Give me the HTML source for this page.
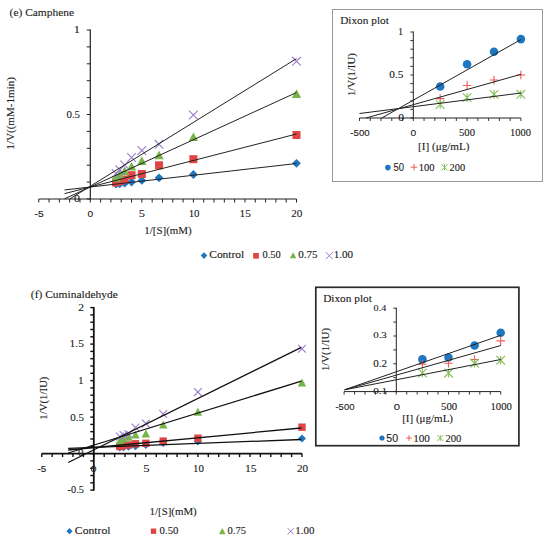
<!DOCTYPE html>
<html><head><meta charset="utf-8"><style>
html,body{margin:0;padding:0;background:#fff;width:550px;height:543px;overflow:hidden}
svg{display:block}
</style></head><body>
<svg width="550" height="543" viewBox="0 0 550 543">
<rect width="550" height="543" fill="#fff"/>
<text x="9.58" y="15.8" font-size="11.06" font-family='"Liberation Serif", serif' fill="#1a1a1a" stroke="#1a1a1a" stroke-width="0.1" textLength="64.53" lengthAdjust="spacingAndGlyphs">(e) Camphene</text>
<line x1="90.3" y1="29.5" x2="90.3" y2="199.5" stroke="#222" stroke-width="1.2"/>
<line x1="38.75" y1="199" x2="296.5" y2="199" stroke="#222" stroke-width="1.2"/>
<line x1="86.8" y1="199" x2="90.3" y2="199" stroke="#222" stroke-width="1"/>
<line x1="86.8" y1="182.1" x2="90.3" y2="182.1" stroke="#222" stroke-width="1"/>
<line x1="86.8" y1="165.2" x2="90.3" y2="165.2" stroke="#222" stroke-width="1"/>
<line x1="86.8" y1="148.3" x2="90.3" y2="148.3" stroke="#222" stroke-width="1"/>
<line x1="86.8" y1="131.4" x2="90.3" y2="131.4" stroke="#222" stroke-width="1"/>
<line x1="86.8" y1="114.5" x2="90.3" y2="114.5" stroke="#222" stroke-width="1"/>
<line x1="86.8" y1="97.6" x2="90.3" y2="97.6" stroke="#222" stroke-width="1"/>
<line x1="86.8" y1="80.7" x2="90.3" y2="80.7" stroke="#222" stroke-width="1"/>
<line x1="86.8" y1="63.8" x2="90.3" y2="63.8" stroke="#222" stroke-width="1"/>
<line x1="86.8" y1="46.9" x2="90.3" y2="46.9" stroke="#222" stroke-width="1"/>
<line x1="86.8" y1="30" x2="90.3" y2="30" stroke="#222" stroke-width="1"/>
<line x1="38.75" y1="199" x2="38.75" y2="202.5" stroke="#222" stroke-width="1"/>
<line x1="49.06" y1="199" x2="49.06" y2="202.5" stroke="#222" stroke-width="1"/>
<line x1="59.37" y1="199" x2="59.37" y2="202.5" stroke="#222" stroke-width="1"/>
<line x1="69.68" y1="199" x2="69.68" y2="202.5" stroke="#222" stroke-width="1"/>
<line x1="79.99" y1="199" x2="79.99" y2="202.5" stroke="#222" stroke-width="1"/>
<line x1="90.3" y1="199" x2="90.3" y2="202.5" stroke="#222" stroke-width="1"/>
<line x1="100.61" y1="199" x2="100.61" y2="202.5" stroke="#222" stroke-width="1"/>
<line x1="110.92" y1="199" x2="110.92" y2="202.5" stroke="#222" stroke-width="1"/>
<line x1="121.23" y1="199" x2="121.23" y2="202.5" stroke="#222" stroke-width="1"/>
<line x1="131.54" y1="199" x2="131.54" y2="202.5" stroke="#222" stroke-width="1"/>
<line x1="141.85" y1="199" x2="141.85" y2="202.5" stroke="#222" stroke-width="1"/>
<line x1="152.16" y1="199" x2="152.16" y2="202.5" stroke="#222" stroke-width="1"/>
<line x1="162.47" y1="199" x2="162.47" y2="202.5" stroke="#222" stroke-width="1"/>
<line x1="172.78" y1="199" x2="172.78" y2="202.5" stroke="#222" stroke-width="1"/>
<line x1="183.09" y1="199" x2="183.09" y2="202.5" stroke="#222" stroke-width="1"/>
<line x1="193.4" y1="199" x2="193.4" y2="202.5" stroke="#222" stroke-width="1"/>
<line x1="203.71" y1="199" x2="203.71" y2="202.5" stroke="#222" stroke-width="1"/>
<line x1="214.02" y1="199" x2="214.02" y2="202.5" stroke="#222" stroke-width="1"/>
<line x1="224.33" y1="199" x2="224.33" y2="202.5" stroke="#222" stroke-width="1"/>
<line x1="234.64" y1="199" x2="234.64" y2="202.5" stroke="#222" stroke-width="1"/>
<line x1="244.95" y1="199" x2="244.95" y2="202.5" stroke="#222" stroke-width="1"/>
<line x1="255.26" y1="199" x2="255.26" y2="202.5" stroke="#222" stroke-width="1"/>
<line x1="265.57" y1="199" x2="265.57" y2="202.5" stroke="#222" stroke-width="1"/>
<line x1="275.88" y1="199" x2="275.88" y2="202.5" stroke="#222" stroke-width="1"/>
<line x1="286.19" y1="199" x2="286.19" y2="202.5" stroke="#222" stroke-width="1"/>
<line x1="296.5" y1="199" x2="296.5" y2="202.5" stroke="#222" stroke-width="1"/>
<text x="73.85" y="32.9" font-size="10.15" font-family='"Liberation Serif", serif' fill="#1a1a1a" stroke="#1a1a1a" stroke-width="0.1" textLength="6.2" lengthAdjust="spacingAndGlyphs">1</text>
<text x="66.47" y="117.8" font-size="10.61" font-family='"Liberation Serif", serif' fill="#1a1a1a" stroke="#1a1a1a" stroke-width="0.1" textLength="13.57" lengthAdjust="spacingAndGlyphs">0.5</text>
<text x="74.02" y="202" font-size="9.85" font-family='"Liberation Serif", serif' fill="#1a1a1a" stroke="#1a1a1a" stroke-width="0.1" textLength="5.95" lengthAdjust="spacingAndGlyphs">0</text>
<text x="34.64" y="217" font-size="9.86" font-family='"Liberation Sans", sans-serif' fill="#1a1a1a" stroke="#1a1a1a" stroke-width="0.1" textLength="9.17" lengthAdjust="spacingAndGlyphs">-5</text>
<text x="87.49" y="217" font-size="9.86" font-family='"Liberation Sans", sans-serif' fill="#1a1a1a" stroke="#1a1a1a" stroke-width="0.1" textLength="5.68" lengthAdjust="spacingAndGlyphs">0</text>
<text x="138.75" y="216.9" font-size="10.91" font-family='"Liberation Serif", serif' fill="#1a1a1a" stroke="#1a1a1a" stroke-width="0.1" textLength="6.25" lengthAdjust="spacingAndGlyphs">5</text>
<text x="188.68" y="216.9" font-size="10.91" font-family='"Liberation Serif", serif' fill="#1a1a1a" stroke="#1a1a1a" stroke-width="0.1" textLength="10.86" lengthAdjust="spacingAndGlyphs">10</text>
<text x="239.54" y="216.9" font-size="10.91" font-family='"Liberation Serif", serif' fill="#1a1a1a" stroke="#1a1a1a" stroke-width="0.1" textLength="11.31" lengthAdjust="spacingAndGlyphs">15</text>
<text x="291.3" y="216.9" font-size="10.91" font-family='"Liberation Serif", serif' fill="#1a1a1a" stroke="#1a1a1a" stroke-width="0.1" textLength="11.15" lengthAdjust="spacingAndGlyphs">20</text>
<text x="14.5" y="149.64" font-size="10.45" font-family='"Liberation Serif", serif' fill="#1a1a1a" stroke="#1a1a1a" stroke-width="0.1" textLength="72.64" lengthAdjust="spacingAndGlyphs" transform="rotate(-90 14.5 149.64)">1/V((mM-1min)</text>
<text x="144.27" y="234.4" font-size="10.76" font-family='"Liberation Serif", serif' fill="#1a1a1a" stroke="#1a1a1a" stroke-width="0.1" textLength="47.5" lengthAdjust="spacingAndGlyphs">1/[S](mM)</text>
<polygon points="116.08,179.8 120.48,184.2 116.08,188.6 111.67,184.2" fill="#1f77c0"/>
<polygon points="119.76,179.4 124.16,183.8 119.76,188.2 115.36,183.8" fill="#1f77c0"/>
<polygon points="124.66,178.8 129.06,183.2 124.66,187.6 120.26,183.2" fill="#1f77c0"/>
<polygon points="131.54,177.6 135.94,182 131.54,186.4 127.14,182" fill="#1f77c0"/>
<polygon points="141.85,176 146.25,180.4 141.85,184.8 137.45,180.4" fill="#1f77c0"/>
<polygon points="159.04,173.4 163.44,177.8 159.04,182.2 154.64,177.8" fill="#1f77c0"/>
<polygon points="193.4,170.1 197.8,174.5 193.4,178.9 189,174.5" fill="#1f77c0"/>
<polygon points="296.5,158.9 300.9,163.3 296.5,167.7 292.1,163.3" fill="#1f77c0"/>
<rect x="112.08" y="178.5" width="8" height="8" fill="#e04545"/>
<rect x="115.76" y="177" width="8" height="8" fill="#e04545"/>
<rect x="120.66" y="175.5" width="8" height="8" fill="#e04545"/>
<rect x="127.54" y="171.2" width="8" height="8" fill="#e04545"/>
<rect x="137.85" y="170" width="8" height="8" fill="#e04545"/>
<rect x="155.04" y="161.3" width="8" height="8" fill="#e04545"/>
<rect x="189.4" y="155.2" width="8" height="8" fill="#e04545"/>
<rect x="292.5" y="131" width="8" height="8" fill="#e04545"/>
<polygon points="116.08,173.2 120.78,181.8 111.38,181.8" fill="#78b548"/>
<polygon points="119.76,170 124.46,178.6 115.06,178.6" fill="#78b548"/>
<polygon points="124.66,166.5 129.36,175.1 119.96,175.1" fill="#78b548"/>
<polygon points="131.54,161.9 136.24,170.5 126.84,170.5" fill="#78b548"/>
<polygon points="141.85,156.3 146.55,164.9 137.15,164.9" fill="#78b548"/>
<polygon points="159.04,150.7 163.74,159.3 154.34,159.3" fill="#78b548"/>
<polygon points="193.4,132.5 198.1,141.1 188.7,141.1" fill="#78b548"/>
<polygon points="296.5,89.3 301.2,97.9 291.8,97.9" fill="#78b548"/>
<path d="M111.78 169.2L120.38 177.8M120.38 169.2L111.78 177.8" stroke="#9a7ccf" stroke-width="1.1" fill="none"/>
<path d="M115.46 165.4L124.06 174M124.06 165.4L115.46 174" stroke="#9a7ccf" stroke-width="1.1" fill="none"/>
<path d="M120.36 160.7L128.96 169.3M128.96 160.7L120.36 169.3" stroke="#9a7ccf" stroke-width="1.1" fill="none"/>
<path d="M127.24 153.2L135.84 161.8M135.84 153.2L127.24 161.8" stroke="#9a7ccf" stroke-width="1.1" fill="none"/>
<path d="M137.55 146.2L146.15 154.8M146.15 146.2L137.55 154.8" stroke="#9a7ccf" stroke-width="1.1" fill="none"/>
<path d="M154.74 140L163.34 148.6M163.34 140L154.74 148.6" stroke="#9a7ccf" stroke-width="1.1" fill="none"/>
<path d="M189.1 110.7L197.7 119.3M197.7 110.7L189.1 119.3" stroke="#9a7ccf" stroke-width="1.1" fill="none"/>
<path d="M292.2 57L300.8 65.6M300.8 57L292.2 65.6" stroke="#9a7ccf" stroke-width="1.1" fill="none"/>
<line x1="64.52" y1="189.94" x2="296.5" y2="163.5" stroke="#222" stroke-width="1"/>
<line x1="64.52" y1="193.62" x2="296.5" y2="134" stroke="#222" stroke-width="1"/>
<line x1="64.52" y1="198.81" x2="296.5" y2="92.5" stroke="#222" stroke-width="1"/>
<line x1="69.62" y1="199" x2="296.5" y2="58.6" stroke="#222" stroke-width="1"/>
<polygon points="204,252.3 207.3,255.6 204,258.9 200.7,255.6" fill="#1f77c0"/>
<text x="209.24" y="258.1" font-size="10" font-family='"Liberation Serif", serif' fill="#1a1a1a" stroke="#1a1a1a" stroke-width="0.1" textLength="35.04" lengthAdjust="spacingAndGlyphs">Control</text>
<rect x="253.15" y="252.95" width="5.7" height="5.7" fill="#e04545"/>
<text x="262.48" y="258.1" font-size="10" font-family='"Liberation Serif", serif' fill="#1a1a1a" stroke="#1a1a1a" stroke-width="0.1" textLength="18.23" lengthAdjust="spacingAndGlyphs">0.50</text>
<polygon points="293.1,252.35 296.3,258.25 289.9,258.25" fill="#78b548"/>
<text x="298.16" y="258.1" font-size="10" font-family='"Liberation Serif", serif' fill="#1a1a1a" stroke="#1a1a1a" stroke-width="0.1" textLength="19.28" lengthAdjust="spacingAndGlyphs">0.75</text>
<path d="M325.8 252.1L332.8 259.1M332.8 252.1L325.8 259.1" stroke="#9a7ccf" stroke-width="1" fill="none"/>
<text x="333.66" y="258.1" font-size="10" font-family='"Liberation Serif", serif' fill="#1a1a1a" stroke="#1a1a1a" stroke-width="0.1" textLength="19.38" lengthAdjust="spacingAndGlyphs">1.00</text>
<rect x="332.5" y="9.5" width="210" height="172" fill="none" stroke="#999" stroke-width="1"/>
<text x="340.16" y="24.3" font-size="11.06" font-family='"Liberation Serif", serif' fill="#1a1a1a" stroke="#1a1a1a" stroke-width="0.1" textLength="48.7" lengthAdjust="spacingAndGlyphs">Dixon plot</text>
<line x1="413.3" y1="31.5" x2="413.3" y2="118.5" stroke="#222" stroke-width="1"/>
<line x1="359.5" y1="118" x2="520.9" y2="118" stroke="#222" stroke-width="1"/>
<line x1="410.3" y1="118" x2="413.3" y2="118" stroke="#222" stroke-width="0.9"/>
<line x1="410.3" y1="109.4" x2="413.3" y2="109.4" stroke="#222" stroke-width="0.9"/>
<line x1="410.3" y1="100.8" x2="413.3" y2="100.8" stroke="#222" stroke-width="0.9"/>
<line x1="410.3" y1="92.2" x2="413.3" y2="92.2" stroke="#222" stroke-width="0.9"/>
<line x1="410.3" y1="83.6" x2="413.3" y2="83.6" stroke="#222" stroke-width="0.9"/>
<line x1="410.3" y1="75" x2="413.3" y2="75" stroke="#222" stroke-width="0.9"/>
<line x1="410.3" y1="66.4" x2="413.3" y2="66.4" stroke="#222" stroke-width="0.9"/>
<line x1="410.3" y1="57.8" x2="413.3" y2="57.8" stroke="#222" stroke-width="0.9"/>
<line x1="410.3" y1="49.2" x2="413.3" y2="49.2" stroke="#222" stroke-width="0.9"/>
<line x1="410.3" y1="40.6" x2="413.3" y2="40.6" stroke="#222" stroke-width="0.9"/>
<line x1="410.3" y1="32" x2="413.3" y2="32" stroke="#222" stroke-width="0.9"/>
<line x1="359.5" y1="118" x2="359.5" y2="121" stroke="#222" stroke-width="0.9"/>
<line x1="370.26" y1="118" x2="370.26" y2="121" stroke="#222" stroke-width="0.9"/>
<line x1="381.02" y1="118" x2="381.02" y2="121" stroke="#222" stroke-width="0.9"/>
<line x1="391.78" y1="118" x2="391.78" y2="121" stroke="#222" stroke-width="0.9"/>
<line x1="402.54" y1="118" x2="402.54" y2="121" stroke="#222" stroke-width="0.9"/>
<line x1="413.3" y1="118" x2="413.3" y2="121" stroke="#222" stroke-width="0.9"/>
<line x1="424.06" y1="118" x2="424.06" y2="121" stroke="#222" stroke-width="0.9"/>
<line x1="434.82" y1="118" x2="434.82" y2="121" stroke="#222" stroke-width="0.9"/>
<line x1="445.58" y1="118" x2="445.58" y2="121" stroke="#222" stroke-width="0.9"/>
<line x1="456.34" y1="118" x2="456.34" y2="121" stroke="#222" stroke-width="0.9"/>
<line x1="467.1" y1="118" x2="467.1" y2="121" stroke="#222" stroke-width="0.9"/>
<line x1="477.86" y1="118" x2="477.86" y2="121" stroke="#222" stroke-width="0.9"/>
<line x1="488.62" y1="118" x2="488.62" y2="121" stroke="#222" stroke-width="0.9"/>
<line x1="499.38" y1="118" x2="499.38" y2="121" stroke="#222" stroke-width="0.9"/>
<line x1="510.14" y1="118" x2="510.14" y2="121" stroke="#222" stroke-width="0.9"/>
<line x1="520.9" y1="118" x2="520.9" y2="121" stroke="#222" stroke-width="0.9"/>
<text x="398.14" y="34.9" font-size="9.55" font-family='"Liberation Serif", serif' fill="#1a1a1a" stroke="#1a1a1a" stroke-width="0.1" textLength="5.07" lengthAdjust="spacingAndGlyphs">1</text>
<text x="389.25" y="77.8" font-size="9.55" font-family='"Liberation Serif", serif' fill="#1a1a1a" stroke="#1a1a1a" stroke-width="0.1" textLength="14.1" lengthAdjust="spacingAndGlyphs">0.5</text>
<text x="398.33" y="121.1" font-size="9.55" font-family='"Liberation Serif", serif' fill="#1a1a1a" stroke="#1a1a1a" stroke-width="0.1" textLength="5.83" lengthAdjust="spacingAndGlyphs">0</text>
<text x="350.37" y="136.2" font-size="9.28" font-family='"Liberation Sans", sans-serif' fill="#1a1a1a" stroke="#1a1a1a" stroke-width="0.1" textLength="19.29" lengthAdjust="spacingAndGlyphs">-500</text>
<text x="410.49" y="136.2" font-size="9.28" font-family='"Liberation Sans", sans-serif' fill="#1a1a1a" stroke="#1a1a1a" stroke-width="0.1" textLength="5.68" lengthAdjust="spacingAndGlyphs">0</text>
<text x="459.06" y="136.3" font-size="10" font-family='"Liberation Serif", serif' fill="#1a1a1a" stroke="#1a1a1a" stroke-width="0.1" textLength="15.96" lengthAdjust="spacingAndGlyphs">500</text>
<text x="510.11" y="136.3" font-size="10" font-family='"Liberation Serif", serif' fill="#1a1a1a" stroke="#1a1a1a" stroke-width="0.1" textLength="20.91" lengthAdjust="spacingAndGlyphs">1000</text>
<text x="418.06" y="150.4" font-size="10" font-family='"Liberation Serif", serif' fill="#1a1a1a" stroke="#1a1a1a" stroke-width="0.1" textLength="51.52" lengthAdjust="spacingAndGlyphs">[I] (μg/mL)</text>
<text x="355.2" y="96.11" font-size="9.85" font-family='"Liberation Serif", serif' fill="#1a1a1a" stroke="#1a1a1a" stroke-width="0.1" textLength="42.88" lengthAdjust="spacingAndGlyphs" transform="rotate(-90 355.2 96.11)">1/V(1/IU)</text>
<circle cx="440.2" cy="86.5" r="4.3" fill="#1f77c0"/>
<circle cx="467.1" cy="64.3" r="4.3" fill="#1f77c0"/>
<circle cx="494" cy="51.8" r="4.3" fill="#1f77c0"/>
<circle cx="520.9" cy="39.1" r="4.3" fill="#1f77c0"/>
<path d="M435.9 98.6L444.5 98.6M440.2 94.3L440.2 102.9" stroke="#f05a5a" stroke-width="1.1" fill="none"/>
<path d="M462.8 85.5L471.4 85.5M467.1 81.2L467.1 89.8" stroke="#f05a5a" stroke-width="1.1" fill="none"/>
<path d="M489.7 80L498.3 80M494 75.7L494 84.3" stroke="#f05a5a" stroke-width="1.1" fill="none"/>
<path d="M516.6 75L525.2 75M520.9 70.7L520.9 79.3" stroke="#f05a5a" stroke-width="1.1" fill="none"/>
<path d="M435.9 100.2L444.5 108.8M444.5 100.2L435.9 108.8M440.2 100.2L440.2 108.8" stroke="#86c05a" stroke-width="1.1" fill="none"/>
<path d="M462.8 93.3L471.4 101.9M471.4 93.3L462.8 101.9M467.1 93.3L467.1 101.9" stroke="#86c05a" stroke-width="1.1" fill="none"/>
<path d="M489.7 90.1L498.3 98.7M498.3 90.1L489.7 98.7M494 90.1L494 98.7" stroke="#86c05a" stroke-width="1.1" fill="none"/>
<path d="M516.6 90L525.2 98.6M525.2 90L516.6 98.6M520.9 90L520.9 98.6" stroke="#86c05a" stroke-width="1.1" fill="none"/>
<line x1="381.7" y1="118" x2="521" y2="39.5" stroke="#222" stroke-width="1"/>
<line x1="366" y1="118" x2="521" y2="74.3" stroke="#222" stroke-width="1"/>
<line x1="359.5" y1="113.5" x2="521" y2="93" stroke="#222" stroke-width="1"/>
<circle cx="387.9" cy="167.6" r="2.8" fill="#1f77c0"/>
<text x="393.52" y="170.5" font-size="10.14" font-family='"Liberation Sans", sans-serif' fill="#1a1a1a" stroke="#1a1a1a" stroke-width="0.1" textLength="10.53" lengthAdjust="spacingAndGlyphs">50</text>
<path d="M410.8 167.2L417.2 167.2M414 164L414 170.4" stroke="#f05a5a" stroke-width="1" fill="none"/>
<text x="418.8" y="170.5" font-size="10.61" font-family='"Liberation Serif", serif' fill="#1a1a1a" stroke="#1a1a1a" stroke-width="0.1" textLength="15.82" lengthAdjust="spacingAndGlyphs">100</text>
<path d="M441.3 164.1L447.7 170.5M447.7 164.1L441.3 170.5M444.5 164.1L444.5 170.5" stroke="#86c05a" stroke-width="1" fill="none"/>
<text x="449.43" y="170.5" font-size="10.61" font-family='"Liberation Serif", serif' fill="#1a1a1a" stroke="#1a1a1a" stroke-width="0.1" textLength="15.69" lengthAdjust="spacingAndGlyphs">200</text>
<text x="30.88" y="298" font-size="9.85" font-family='"Liberation Serif", serif' fill="#1a1a1a" stroke="#1a1a1a" stroke-width="0.1" textLength="86.93" lengthAdjust="spacingAndGlyphs">(f) Cuminaldehyde</text>
<line x1="93.8" y1="307.1" x2="93.8" y2="490.6" stroke="#111" stroke-width="1.8"/>
<line x1="41.75" y1="453.6" x2="302" y2="453.6" stroke="#111" stroke-width="1.8"/>
<line x1="90.3" y1="490.1" x2="93.8" y2="490.1" stroke="#111" stroke-width="1.4"/>
<line x1="90.3" y1="482.8" x2="93.8" y2="482.8" stroke="#111" stroke-width="1.4"/>
<line x1="90.3" y1="475.5" x2="93.8" y2="475.5" stroke="#111" stroke-width="1.4"/>
<line x1="90.3" y1="468.2" x2="93.8" y2="468.2" stroke="#111" stroke-width="1.4"/>
<line x1="90.3" y1="460.9" x2="93.8" y2="460.9" stroke="#111" stroke-width="1.4"/>
<line x1="90.3" y1="453.6" x2="93.8" y2="453.6" stroke="#111" stroke-width="1.4"/>
<line x1="90.3" y1="446.3" x2="93.8" y2="446.3" stroke="#111" stroke-width="1.4"/>
<line x1="90.3" y1="439" x2="93.8" y2="439" stroke="#111" stroke-width="1.4"/>
<line x1="90.3" y1="431.7" x2="93.8" y2="431.7" stroke="#111" stroke-width="1.4"/>
<line x1="90.3" y1="424.4" x2="93.8" y2="424.4" stroke="#111" stroke-width="1.4"/>
<line x1="90.3" y1="417.1" x2="93.8" y2="417.1" stroke="#111" stroke-width="1.4"/>
<line x1="90.3" y1="409.8" x2="93.8" y2="409.8" stroke="#111" stroke-width="1.4"/>
<line x1="90.3" y1="402.5" x2="93.8" y2="402.5" stroke="#111" stroke-width="1.4"/>
<line x1="90.3" y1="395.2" x2="93.8" y2="395.2" stroke="#111" stroke-width="1.4"/>
<line x1="90.3" y1="387.9" x2="93.8" y2="387.9" stroke="#111" stroke-width="1.4"/>
<line x1="90.3" y1="380.6" x2="93.8" y2="380.6" stroke="#111" stroke-width="1.4"/>
<line x1="90.3" y1="373.3" x2="93.8" y2="373.3" stroke="#111" stroke-width="1.4"/>
<line x1="90.3" y1="366" x2="93.8" y2="366" stroke="#111" stroke-width="1.4"/>
<line x1="90.3" y1="358.7" x2="93.8" y2="358.7" stroke="#111" stroke-width="1.4"/>
<line x1="90.3" y1="351.4" x2="93.8" y2="351.4" stroke="#111" stroke-width="1.4"/>
<line x1="90.3" y1="344.1" x2="93.8" y2="344.1" stroke="#111" stroke-width="1.4"/>
<line x1="90.3" y1="336.8" x2="93.8" y2="336.8" stroke="#111" stroke-width="1.4"/>
<line x1="90.3" y1="329.5" x2="93.8" y2="329.5" stroke="#111" stroke-width="1.4"/>
<line x1="90.3" y1="322.2" x2="93.8" y2="322.2" stroke="#111" stroke-width="1.4"/>
<line x1="90.3" y1="314.9" x2="93.8" y2="314.9" stroke="#111" stroke-width="1.4"/>
<line x1="90.3" y1="307.6" x2="93.8" y2="307.6" stroke="#111" stroke-width="1.4"/>
<line x1="41.75" y1="453.6" x2="41.75" y2="457.1" stroke="#111" stroke-width="1.4"/>
<line x1="52.16" y1="453.6" x2="52.16" y2="457.1" stroke="#111" stroke-width="1.4"/>
<line x1="62.57" y1="453.6" x2="62.57" y2="457.1" stroke="#111" stroke-width="1.4"/>
<line x1="72.98" y1="453.6" x2="72.98" y2="457.1" stroke="#111" stroke-width="1.4"/>
<line x1="83.39" y1="453.6" x2="83.39" y2="457.1" stroke="#111" stroke-width="1.4"/>
<line x1="93.8" y1="453.6" x2="93.8" y2="457.1" stroke="#111" stroke-width="1.4"/>
<line x1="104.21" y1="453.6" x2="104.21" y2="457.1" stroke="#111" stroke-width="1.4"/>
<line x1="114.62" y1="453.6" x2="114.62" y2="457.1" stroke="#111" stroke-width="1.4"/>
<line x1="125.03" y1="453.6" x2="125.03" y2="457.1" stroke="#111" stroke-width="1.4"/>
<line x1="135.44" y1="453.6" x2="135.44" y2="457.1" stroke="#111" stroke-width="1.4"/>
<line x1="145.85" y1="453.6" x2="145.85" y2="457.1" stroke="#111" stroke-width="1.4"/>
<line x1="156.26" y1="453.6" x2="156.26" y2="457.1" stroke="#111" stroke-width="1.4"/>
<line x1="166.67" y1="453.6" x2="166.67" y2="457.1" stroke="#111" stroke-width="1.4"/>
<line x1="177.08" y1="453.6" x2="177.08" y2="457.1" stroke="#111" stroke-width="1.4"/>
<line x1="187.49" y1="453.6" x2="187.49" y2="457.1" stroke="#111" stroke-width="1.4"/>
<line x1="197.9" y1="453.6" x2="197.9" y2="457.1" stroke="#111" stroke-width="1.4"/>
<line x1="208.31" y1="453.6" x2="208.31" y2="457.1" stroke="#111" stroke-width="1.4"/>
<line x1="218.72" y1="453.6" x2="218.72" y2="457.1" stroke="#111" stroke-width="1.4"/>
<line x1="229.13" y1="453.6" x2="229.13" y2="457.1" stroke="#111" stroke-width="1.4"/>
<line x1="239.54" y1="453.6" x2="239.54" y2="457.1" stroke="#111" stroke-width="1.4"/>
<line x1="249.95" y1="453.6" x2="249.95" y2="457.1" stroke="#111" stroke-width="1.4"/>
<line x1="260.36" y1="453.6" x2="260.36" y2="457.1" stroke="#111" stroke-width="1.4"/>
<line x1="270.77" y1="453.6" x2="270.77" y2="457.1" stroke="#111" stroke-width="1.4"/>
<line x1="281.18" y1="453.6" x2="281.18" y2="457.1" stroke="#111" stroke-width="1.4"/>
<line x1="291.59" y1="453.6" x2="291.59" y2="457.1" stroke="#111" stroke-width="1.4"/>
<line x1="302" y1="453.6" x2="302" y2="457.1" stroke="#111" stroke-width="1.4"/>
<text x="78.38" y="311" font-size="9.7" font-family='"Liberation Serif", serif' fill="#1a1a1a" stroke="#1a1a1a" stroke-width="0.1" textLength="5.75" lengthAdjust="spacingAndGlyphs">2</text>
<text x="69.63" y="347.4" font-size="10.61" font-family='"Liberation Serif", serif' fill="#1a1a1a" stroke="#1a1a1a" stroke-width="0.1" textLength="14.33" lengthAdjust="spacingAndGlyphs">1.5</text>
<text x="77.94" y="383.6" font-size="9.7" font-family='"Liberation Serif", serif' fill="#1a1a1a" stroke="#1a1a1a" stroke-width="0.1" textLength="5.63" lengthAdjust="spacingAndGlyphs">1</text>
<text x="70.16" y="420.6" font-size="10.3" font-family='"Liberation Serif", serif' fill="#1a1a1a" stroke="#1a1a1a" stroke-width="0.1" textLength="13.78" lengthAdjust="spacingAndGlyphs">0.5</text>
<text x="78.07" y="456.3" font-size="9.7" font-family='"Liberation Serif", serif' fill="#1a1a1a" stroke="#1a1a1a" stroke-width="0.1" textLength="5.36" lengthAdjust="spacingAndGlyphs">0</text>
<text x="67.54" y="492.8" font-size="9.7" font-family='"Liberation Serif", serif' fill="#1a1a1a" stroke="#1a1a1a" stroke-width="0.1" textLength="16.35" lengthAdjust="spacingAndGlyphs">-0.5</text>
<text x="37.55" y="472" font-size="9.57" font-family='"Liberation Sans", sans-serif' fill="#1a1a1a" stroke="#1a1a1a" stroke-width="0.1" textLength="8.84" lengthAdjust="spacingAndGlyphs">-5</text>
<text x="90.57" y="472" font-size="9.86" font-family='"Liberation Sans", sans-serif' fill="#1a1a1a" stroke="#1a1a1a" stroke-width="0.1" textLength="6.03" lengthAdjust="spacingAndGlyphs">0</text>
<text x="143.24" y="472.3" font-size="11.06" font-family='"Liberation Serif", serif' fill="#1a1a1a" stroke="#1a1a1a" stroke-width="0.1" textLength="6.37" lengthAdjust="spacingAndGlyphs">5</text>
<text x="192.98" y="472.3" font-size="11.06" font-family='"Liberation Serif", serif' fill="#1a1a1a" stroke="#1a1a1a" stroke-width="0.1" textLength="10.86" lengthAdjust="spacingAndGlyphs">10</text>
<text x="244.91" y="472.3" font-size="11.06" font-family='"Liberation Serif", serif' fill="#1a1a1a" stroke="#1a1a1a" stroke-width="0.1" textLength="11.66" lengthAdjust="spacingAndGlyphs">15</text>
<text x="297" y="472.3" font-size="11.06" font-family='"Liberation Serif", serif' fill="#1a1a1a" stroke="#1a1a1a" stroke-width="0.1" textLength="11.15" lengthAdjust="spacingAndGlyphs">20</text>
<text x="46.9" y="419.62" font-size="9.7" font-family='"Liberation Serif", serif' fill="#1a1a1a" stroke="#1a1a1a" stroke-width="0.1" textLength="43.09" lengthAdjust="spacingAndGlyphs" transform="rotate(-90 46.9 419.62)">1/V(1/IU)</text>
<text x="149.58" y="514.5" font-size="10.45" font-family='"Liberation Serif", serif' fill="#1a1a1a" stroke="#1a1a1a" stroke-width="0.1" textLength="47.09" lengthAdjust="spacingAndGlyphs">1/[S](mM)</text>
<polygon points="119.82,443.5 123.82,447.5 119.82,451.5 115.82,447.5" fill="#1f77c0"/>
<polygon points="123.54,443.2 127.54,447.2 123.54,451.2 119.54,447.2" fill="#1f77c0"/>
<polygon points="128.5,442.8 132.5,446.8 128.5,450.8 124.5,446.8" fill="#1f77c0"/>
<polygon points="135.44,442.3 139.44,446.3 135.44,450.3 131.44,446.3" fill="#1f77c0"/>
<polygon points="145.85,441 149.85,445 145.85,449 141.85,445" fill="#1f77c0"/>
<polygon points="163.2,439 167.2,443 163.2,447 159.2,443" fill="#1f77c0"/>
<polygon points="197.9,437.5 201.9,441.5 197.9,445.5 193.9,441.5" fill="#1f77c0"/>
<polygon points="302,434.5 306,438.5 302,442.5 298,438.5" fill="#1f77c0"/>
<rect x="116.12" y="442.8" width="7.4" height="7.4" fill="#e04545"/>
<rect x="119.84" y="441.8" width="7.4" height="7.4" fill="#e04545"/>
<rect x="124.8" y="441.3" width="7.4" height="7.4" fill="#e04545"/>
<rect x="131.74" y="440.1" width="7.4" height="7.4" fill="#e04545"/>
<rect x="142.15" y="439.6" width="7.4" height="7.4" fill="#e04545"/>
<rect x="159.5" y="437.4" width="7.4" height="7.4" fill="#e04545"/>
<rect x="194.2" y="434.5" width="7.4" height="7.4" fill="#e04545"/>
<rect x="298.3" y="423.5" width="7.4" height="7.4" fill="#e04545"/>
<polygon points="119.82,436.45 124.02,444.55 115.62,444.55" fill="#78b548"/>
<polygon points="123.54,434.35 127.74,442.45 119.34,442.45" fill="#78b548"/>
<polygon points="128.5,432.65 132.7,440.75 124.3,440.75" fill="#78b548"/>
<polygon points="135.44,430.45 139.64,438.55 131.24,438.55" fill="#78b548"/>
<polygon points="145.85,429.45 150.05,437.55 141.65,437.55" fill="#78b548"/>
<polygon points="163.2,420.45 167.4,428.55 159,428.55" fill="#78b548"/>
<polygon points="197.9,407.65 202.1,415.75 193.7,415.75" fill="#78b548"/>
<polygon points="302,378.45 306.2,386.55 297.8,386.55" fill="#78b548"/>
<path d="M115.92 432.6L123.72 440.4M123.72 432.6L115.92 440.4" stroke="#9a7ccf" stroke-width="1.1" fill="none"/>
<path d="M119.64 431.1L127.44 438.9M127.44 431.1L119.64 438.9" stroke="#9a7ccf" stroke-width="1.1" fill="none"/>
<path d="M124.6 430.1L132.4 437.9M132.4 430.1L124.6 437.9" stroke="#9a7ccf" stroke-width="1.1" fill="none"/>
<path d="M131.54 423.6L139.34 431.4M139.34 423.6L131.54 431.4" stroke="#9a7ccf" stroke-width="1.1" fill="none"/>
<path d="M141.95 419.7L149.75 427.5M149.75 419.7L141.95 427.5" stroke="#9a7ccf" stroke-width="1.1" fill="none"/>
<path d="M159.3 410.1L167.1 417.9M167.1 410.1L159.3 417.9" stroke="#9a7ccf" stroke-width="1.1" fill="none"/>
<path d="M194 388.2L201.8 396M201.8 388.2L194 396" stroke="#9a7ccf" stroke-width="1.1" fill="none"/>
<path d="M298.1 344.9L305.9 352.7M305.9 344.9L298.1 352.7" stroke="#9a7ccf" stroke-width="1.1" fill="none"/>
<line x1="68.2" y1="448.3" x2="301.4" y2="439.5" stroke="#111" stroke-width="1.3"/>
<line x1="68.2" y1="450" x2="301.4" y2="428" stroke="#111" stroke-width="1.3"/>
<line x1="68.2" y1="453" x2="301.4" y2="381.2" stroke="#111" stroke-width="1.3"/>
<line x1="68.2" y1="462.5" x2="301.4" y2="347.3" stroke="#111" stroke-width="1.3"/>
<polygon points="69.5,528.1 72.6,531.2 69.5,534.3 66.4,531.2" fill="#1f77c0"/>
<text x="74.83" y="534.4" font-size="10.15" font-family='"Liberation Serif", serif' fill="#1a1a1a" stroke="#1a1a1a" stroke-width="0.1" textLength="35.75" lengthAdjust="spacingAndGlyphs">Control</text>
<rect x="150.8" y="528.5" width="5.4" height="5.4" fill="#e04545"/>
<text x="159.57" y="534.4" font-size="10.3" font-family='"Liberation Serif", serif' fill="#1a1a1a" stroke="#1a1a1a" stroke-width="0.1" textLength="18.86" lengthAdjust="spacingAndGlyphs">0.50</text>
<polygon points="222.3,528.1 225.6,534.3 219,534.3" fill="#78b548"/>
<text x="227.58" y="534.4" font-size="10.3" font-family='"Liberation Serif", serif' fill="#1a1a1a" stroke="#1a1a1a" stroke-width="0.1" textLength="18.44" lengthAdjust="spacingAndGlyphs">0.75</text>
<path d="M287.6 528.1L293.8 534.3M293.8 528.1L287.6 534.3" stroke="#9a7ccf" stroke-width="1" fill="none"/>
<text x="295.37" y="534.4" font-size="10.3" font-family='"Liberation Serif", serif' fill="#1a1a1a" stroke="#1a1a1a" stroke-width="0.1" textLength="19.06" lengthAdjust="spacingAndGlyphs">1.00</text>
<rect x="315.8" y="287.3" width="203.1" height="158.4" fill="#fff" stroke="#2a2a2a" stroke-width="1.7"/>
<text x="323.16" y="302.3" font-size="10.15" font-family='"Liberation Serif", serif' fill="#1a1a1a" stroke="#1a1a1a" stroke-width="0.1" textLength="48.7" lengthAdjust="spacingAndGlyphs">Dixon plot</text>
<line x1="396.3" y1="307.7" x2="396.3" y2="392.1" stroke="#222" stroke-width="1"/>
<line x1="344.1" y1="391.6" x2="500.7" y2="391.6" stroke="#222" stroke-width="1"/>
<line x1="393.3" y1="391.6" x2="396.3" y2="391.6" stroke="#222" stroke-width="0.9"/>
<line x1="393.3" y1="377.7" x2="396.3" y2="377.7" stroke="#222" stroke-width="0.9"/>
<line x1="393.3" y1="363.8" x2="396.3" y2="363.8" stroke="#222" stroke-width="0.9"/>
<line x1="393.3" y1="349.9" x2="396.3" y2="349.9" stroke="#222" stroke-width="0.9"/>
<line x1="393.3" y1="336" x2="396.3" y2="336" stroke="#222" stroke-width="0.9"/>
<line x1="393.3" y1="322.1" x2="396.3" y2="322.1" stroke="#222" stroke-width="0.9"/>
<line x1="393.3" y1="308.2" x2="396.3" y2="308.2" stroke="#222" stroke-width="0.9"/>
<line x1="344.1" y1="391.6" x2="344.1" y2="394.6" stroke="#222" stroke-width="0.9"/>
<line x1="354.54" y1="391.6" x2="354.54" y2="394.6" stroke="#222" stroke-width="0.9"/>
<line x1="364.98" y1="391.6" x2="364.98" y2="394.6" stroke="#222" stroke-width="0.9"/>
<line x1="375.42" y1="391.6" x2="375.42" y2="394.6" stroke="#222" stroke-width="0.9"/>
<line x1="385.86" y1="391.6" x2="385.86" y2="394.6" stroke="#222" stroke-width="0.9"/>
<line x1="396.3" y1="391.6" x2="396.3" y2="394.6" stroke="#222" stroke-width="0.9"/>
<line x1="406.74" y1="391.6" x2="406.74" y2="394.6" stroke="#222" stroke-width="0.9"/>
<line x1="417.18" y1="391.6" x2="417.18" y2="394.6" stroke="#222" stroke-width="0.9"/>
<line x1="427.62" y1="391.6" x2="427.62" y2="394.6" stroke="#222" stroke-width="0.9"/>
<line x1="438.06" y1="391.6" x2="438.06" y2="394.6" stroke="#222" stroke-width="0.9"/>
<line x1="448.5" y1="391.6" x2="448.5" y2="394.6" stroke="#222" stroke-width="0.9"/>
<line x1="458.94" y1="391.6" x2="458.94" y2="394.6" stroke="#222" stroke-width="0.9"/>
<line x1="469.38" y1="391.6" x2="469.38" y2="394.6" stroke="#222" stroke-width="0.9"/>
<line x1="479.82" y1="391.6" x2="479.82" y2="394.6" stroke="#222" stroke-width="0.9"/>
<line x1="490.26" y1="391.6" x2="490.26" y2="394.6" stroke="#222" stroke-width="0.9"/>
<line x1="500.7" y1="391.6" x2="500.7" y2="394.6" stroke="#222" stroke-width="0.9"/>
<text x="373.59" y="311.3" font-size="9.24" font-family='"Liberation Serif", serif' fill="#1a1a1a" stroke="#1a1a1a" stroke-width="0.1" textLength="12.66" lengthAdjust="spacingAndGlyphs">0.4</text>
<text x="373.16" y="338.4" font-size="8.94" font-family='"Liberation Serif", serif' fill="#1a1a1a" stroke="#1a1a1a" stroke-width="0.1" textLength="13.68" lengthAdjust="spacingAndGlyphs">0.3</text>
<text x="373.16" y="366.8" font-size="9.55" font-family='"Liberation Serif", serif' fill="#1a1a1a" stroke="#1a1a1a" stroke-width="0.1" textLength="13.85" lengthAdjust="spacingAndGlyphs">0.2</text>
<text x="373.15" y="394.4" font-size="8.94" font-family='"Liberation Serif", serif' fill="#1a1a1a" stroke="#1a1a1a" stroke-width="0.1" textLength="13.91" lengthAdjust="spacingAndGlyphs">0.1</text>
<text x="335.47" y="409.8" font-size="9.13" font-family='"Liberation Sans", sans-serif' fill="#1a1a1a" stroke="#1a1a1a" stroke-width="0.1" textLength="18.97" lengthAdjust="spacingAndGlyphs">-500</text>
<text x="393.65" y="409.8" font-size="9.13" font-family='"Liberation Sans", sans-serif' fill="#1a1a1a" stroke="#1a1a1a" stroke-width="0.1" textLength="6.26" lengthAdjust="spacingAndGlyphs">0</text>
<text x="441.05" y="409.8" font-size="9.55" font-family='"Liberation Serif", serif' fill="#1a1a1a" stroke="#1a1a1a" stroke-width="0.1" textLength="16.18" lengthAdjust="spacingAndGlyphs">500</text>
<text x="490.49" y="409.8" font-size="9.55" font-family='"Liberation Serif", serif' fill="#1a1a1a" stroke="#1a1a1a" stroke-width="0.1" textLength="21.33" lengthAdjust="spacingAndGlyphs">1000</text>
<text x="402.17" y="421.9" font-size="9.55" font-family='"Liberation Serif", serif' fill="#1a1a1a" stroke="#1a1a1a" stroke-width="0.1" textLength="50.9" lengthAdjust="spacingAndGlyphs">[I] (μg/mL)</text>
<text x="329.2" y="371.01" font-size="9.55" font-family='"Liberation Serif", serif' fill="#1a1a1a" stroke="#1a1a1a" stroke-width="0.1" textLength="42.99" lengthAdjust="spacingAndGlyphs" transform="rotate(-90 329.2 371.01)">1/V(1/IU)</text>
<circle cx="422.4" cy="359.4" r="4.3" fill="#1f77c0"/>
<circle cx="448.5" cy="357.5" r="4.3" fill="#1f77c0"/>
<circle cx="474.6" cy="345.5" r="4.3" fill="#1f77c0"/>
<circle cx="500.7" cy="332.7" r="4.3" fill="#1f77c0"/>
<path d="M418.1 364.2L426.7 364.2M422.4 359.9L422.4 368.5" stroke="#f05a5a" stroke-width="1.1" fill="none"/>
<path d="M444.2 363.2L452.8 363.2M448.5 358.9L448.5 367.5" stroke="#f05a5a" stroke-width="1.1" fill="none"/>
<path d="M470.3 359.5L478.9 359.5M474.6 355.2L474.6 363.8" stroke="#f05a5a" stroke-width="1.1" fill="none"/>
<path d="M496.4 340.9L505 340.9M500.7 336.6L500.7 345.2" stroke="#f05a5a" stroke-width="1.1" fill="none"/>
<path d="M418.1 368.7L426.7 377.3M426.7 368.7L418.1 377.3M422.4 368.7L422.4 377.3" stroke="#86c05a" stroke-width="1.1" fill="none"/>
<path d="M444.2 368.9L452.8 377.5M452.8 368.9L444.2 377.5M448.5 368.9L448.5 377.5" stroke="#86c05a" stroke-width="1.1" fill="none"/>
<path d="M470.3 359L478.9 367.6M478.9 359L470.3 367.6M474.6 359L474.6 367.6" stroke="#86c05a" stroke-width="1.1" fill="none"/>
<path d="M496.4 355.9L505 364.5M505 355.9L496.4 364.5M500.7 355.9L500.7 364.5" stroke="#86c05a" stroke-width="1.1" fill="none"/>
<line x1="344.6" y1="389.8" x2="500.8" y2="335.3" stroke="#222" stroke-width="1"/>
<line x1="344.6" y1="389.8" x2="500.8" y2="345.5" stroke="#222" stroke-width="1"/>
<line x1="344.6" y1="389.8" x2="500.8" y2="359.5" stroke="#222" stroke-width="1"/>
<circle cx="382" cy="438" r="2.6" fill="#1f77c0"/>
<text x="386.38" y="441.6" font-size="10.43" font-family='"Liberation Sans", sans-serif' fill="#1a1a1a" stroke="#1a1a1a" stroke-width="0.1" textLength="11.71" lengthAdjust="spacingAndGlyphs">50</text>
<path d="M406.2 438L411.8 438M409 435.2L409 440.8" stroke="#f05a5a" stroke-width="1" fill="none"/>
<text x="413.15" y="441.6" font-size="10.91" font-family='"Liberation Serif", serif' fill="#1a1a1a" stroke="#1a1a1a" stroke-width="0.1" textLength="16.8" lengthAdjust="spacingAndGlyphs">100</text>
<path d="M437.4 435.1L443.2 440.9M443.2 435.1L437.4 440.9M440.3 435.1L440.3 440.9" stroke="#86c05a" stroke-width="1" fill="none"/>
<text x="445.42" y="441.6" font-size="10.91" font-family='"Liberation Serif", serif' fill="#1a1a1a" stroke="#1a1a1a" stroke-width="0.1" textLength="16.01" lengthAdjust="spacingAndGlyphs">200</text>
</svg></body></html>
